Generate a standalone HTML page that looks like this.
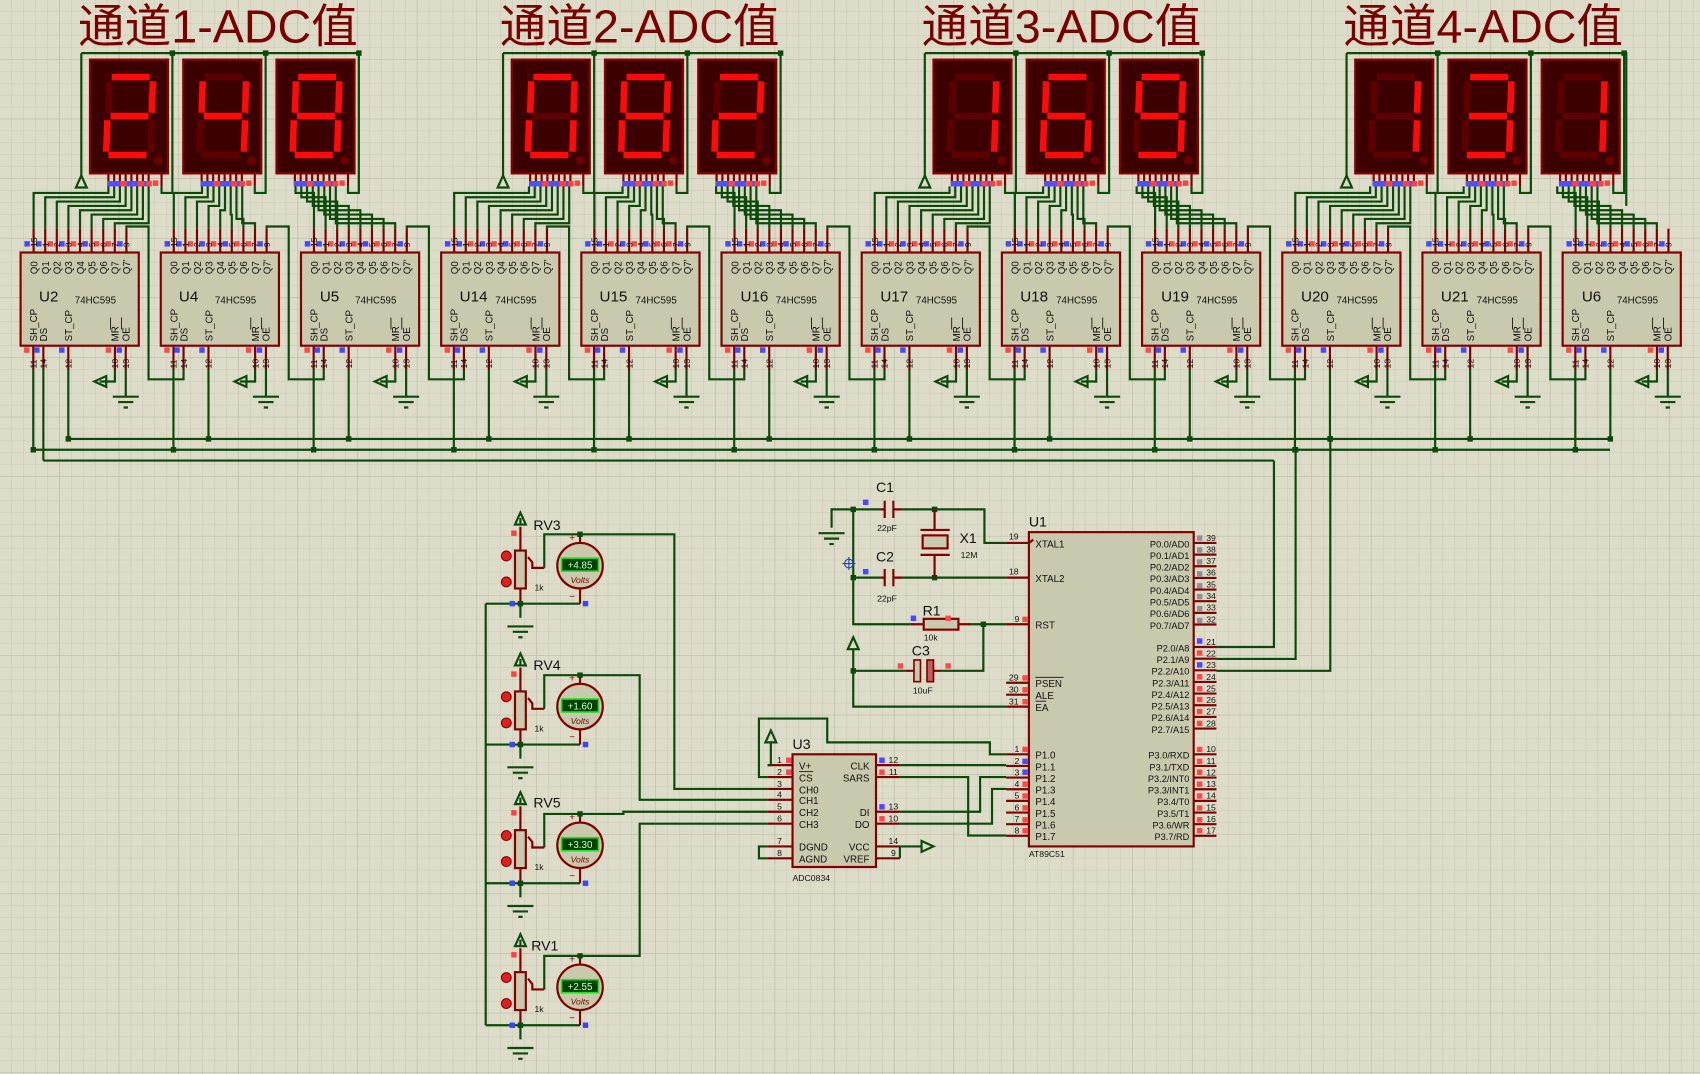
<!DOCTYPE html>
<html><head><meta charset="utf-8">
<style>
html,body{margin:0;padding:0;background:#dcdcc8;overflow:hidden}
svg{display:block}
text{font-family:"Liberation Sans","Noto Sans CJK SC",sans-serif}
</style></head>
<body>
<svg xmlns="http://www.w3.org/2000/svg" xmlns:xlink="http://www.w3.org/1999/xlink" width="1700" height="1074" viewBox="0 0 1568 991" preserveAspectRatio="none">
<defs>
<pattern id="gm" width="11" height="11" patternUnits="userSpaceOnUse"><path d="M11 0V11H0" fill="none" stroke="#c8c8b4" stroke-width="0.8"/></pattern>
<pattern id="gM" width="55" height="55" patternUnits="userSpaceOnUse"><path d="M55 0V55H0" fill="none" stroke="#b8b8a4" stroke-width="1"/></pattern>

<g id="sa"><line x1="20" y1="71" x2="55" y2="71"/></g>
<g id="sb"><line x1="58" y1="75" x2="57" y2="104"/></g>
<g id="sc"><line x1="57" y1="111" x2="56" y2="140"/></g>
<g id="sd"><line x1="17" y1="143" x2="52" y2="143"/></g>
<g id="se"><line x1="16" y1="111" x2="15" y2="140"/></g>
<g id="sf"><line x1="18" y1="75" x2="17" y2="104"/></g>
<g id="sg"><line x1="19" y1="107" x2="54" y2="107"/></g>

<g id="disp">
<rect x="0" y="55" width="72" height="105" fill="#3c0000" stroke="#8a0000" stroke-width="2"/>
<g stroke="#5e0000" stroke-width="6"><use href="#sa"/><use href="#sb"/><use href="#sc"/><use href="#sd"/><use href="#se"/><use href="#sf"/><use href="#sg"/></g>
<circle cx="63" cy="148" r="4" fill="#6a0000"/>
<path d="M17 160V172M22.3 160V172M27.6 160V172M32.9 160V172M38.2 160V172M43.5 160V172M48.8 160V172M54.1 160V172M66 160V172" stroke="#800000" stroke-width="2" fill="none"/>
<rect x="16" y="167" width="40" height="5" fill="#5050ff"/>
<rect x="28" y="167" width="6" height="5" fill="#ff4040"/><rect x="44" y="167" width="6" height="5" fill="#ff4040"/><rect x="52" y="167" width="5" height="5" fill="#ff4040"/>
<rect x="58" y="166.5" width="5" height="5" fill="#ff4040"/>
<path d="M66 172V178H76V49" stroke="#0b4a0b" stroke-width="2" fill="none"/>
<rect x="73.5" y="46.5" width="5" height="5" fill="#0b4a0b"/>
</g>
<g id="d0" stroke="#ff0a0a" stroke-width="6"><use href="#sa"/><use href="#sb"/><use href="#sc"/><use href="#sd"/><use href="#se"/><use href="#sf"/></g>
<g id="d1" stroke="#ff0a0a" stroke-width="6"><use href="#sb"/><use href="#sc"/></g>
<g id="d2" stroke="#ff0a0a" stroke-width="6"><use href="#sa"/><use href="#sb"/><use href="#sd"/><use href="#se"/><use href="#sg"/></g>
<g id="d3" stroke="#ff0a0a" stroke-width="6"><use href="#sa"/><use href="#sb"/><use href="#sc"/><use href="#sd"/><use href="#sg"/></g>
<g id="d4" stroke="#ff0a0a" stroke-width="6"><use href="#sb"/><use href="#sc"/><use href="#sf"/><use href="#sg"/></g>
<g id="d6" stroke="#ff0a0a" stroke-width="6"><use href="#sa"/><use href="#sc"/><use href="#sd"/><use href="#se"/><use href="#sf"/><use href="#sg"/></g>
<g id="d8" stroke="#ff0a0a" stroke-width="6"><use href="#sa"/><use href="#sb"/><use href="#sc"/><use href="#sd"/><use href="#se"/><use href="#sf"/><use href="#sg"/></g>
<g id="d9" stroke="#ff0a0a" stroke-width="6"><use href="#sa"/><use href="#sb"/><use href="#sc"/><use href="#sd"/><use href="#sf"/><use href="#sg"/></g>

<g id="chip">
<path d="M12 211V233M22.7 211V233M33.4 211V233M44.1 211V233M54.8 211V233M65.5 211V233M76.2 211V233M86.9 211V233M97.6 211V233M11.7 319V341M21 319V341M44 319V341M87 319V341M97 319V341" stroke="#800000" stroke-width="2" fill="none"/>
<rect x="0" y="233" width="109" height="86" fill="#c9c9ad" stroke="#800000" stroke-width="2"/>
<g fill="#4848ff"><rect x="3.5" y="222.5" width="5" height="5"/><rect x="14.2" y="222.5" width="5" height="5"/><rect x="35.6" y="222.5" width="5" height="5"/><rect x="57" y="222.5" width="5" height="5"/><rect x="89.1" y="222.5" width="5" height="5"/><rect x="12.5" y="320.5" width="5" height="5"/><rect x="88.5" y="320.5" width="5" height="5"/><rect x="35.5" y="320.5" width="5" height="5"/></g>
<g fill="#ff4848"><rect x="24.9" y="222.5" width="5" height="5"/><rect x="46.3" y="222.5" width="5" height="5"/><rect x="67.7" y="222.5" width="5" height="5"/><rect x="78.4" y="222.5" width="5" height="5"/><rect x="3.2" y="320.5" width="5" height="5"/><rect x="78.5" y="320.5" width="5" height="5"/></g>
<g font-size="8" fill="#111">
<text x="15" y="228" transform="rotate(-90 15 228)">15</text>
<text x="25.7" y="228" transform="rotate(-90 25.7 228)">1</text>
<text x="36.4" y="228" transform="rotate(-90 36.4 228)">2</text>
<text x="47.1" y="228" transform="rotate(-90 47.1 228)">3</text>
<text x="57.8" y="228" transform="rotate(-90 57.8 228)">4</text>
<text x="68.5" y="228" transform="rotate(-90 68.5 228)">5</text>
<text x="79.2" y="228" transform="rotate(-90 79.2 228)">6</text>
<text x="89.9" y="228" transform="rotate(-90 89.9 228)">7</text>
<text x="100.6" y="228" transform="rotate(-90 100.6 228)">9</text>
<text x="14.7" y="340" transform="rotate(-90 14.7 340)">11</text>
<text x="24" y="340" transform="rotate(-90 24 340)">14</text>
<text x="47" y="340" transform="rotate(-90 47 340)">12</text>
<text x="90" y="340" transform="rotate(-90 90 340)">10</text>
<text x="100" y="340" transform="rotate(-90 100 340)">13</text>
</g>
<g font-size="9" fill="#111">
<text x="15.5" y="253" transform="rotate(-90 15.5 253)">Q0</text>
<text x="26.2" y="253" transform="rotate(-90 26.2 253)">Q1</text>
<text x="36.9" y="253" transform="rotate(-90 36.9 253)">Q2</text>
<text x="47.6" y="253" transform="rotate(-90 47.6 253)">Q3</text>
<text x="58.3" y="253" transform="rotate(-90 58.3 253)">Q4</text>
<text x="69" y="253" transform="rotate(-90 69 253)">Q5</text>
<text x="79.7" y="253" transform="rotate(-90 79.7 253)">Q6</text>
<text x="90.4" y="253" transform="rotate(-90 90.4 253)">Q7</text>
<text x="101.1" y="253" transform="rotate(-90 101.1 253)">Q7'</text>
<text x="15.2" y="315" transform="rotate(-90 15.2 315)">SH_CP</text>
<text x="24.5" y="315" transform="rotate(-90 24.5 315)">DS</text>
<text x="47.5" y="315" transform="rotate(-90 47.5 315)">ST_CP</text>
<text x="90.5" y="315" transform="rotate(-90 90.5 315)">MR</text>
<text x="100.5" y="315" transform="rotate(-90 100.5 315)">OE</text>
<text x="50" y="280">74HC595</text>
</g>
<path d="M83 304V293M93 304V293" stroke="#111" stroke-width="0.8"/>
<g stroke="#0b4a0b" stroke-width="2" fill="none">
<path d="M11.7 341V415M44 341V405M87 341V352H79M97 341V366M85 366H109M90 371H104M95 376H99M73 352H79"/>
<polygon points="79,347 79,357 68,352"/>
</g>
<rect x="9.2" y="412.5" width="5" height="5" fill="#0b4a0b"/><rect x="41.5" y="402.5" width="5" height="5" fill="#0b4a0b"/>
</g>
<path id="casc" d="M97.6 211V209H118V350H150.3V341" stroke="#0b4a0b" stroke-width="2" fill="none"/>
<path id="f0" d="M81 172V178H12V211M86.3 172V182H22.7V211M91.6 172V186H33.4V211M96.9 172V190H44.1V211M102.2 172V194H54.8V211M107.5 172V198H65.5V211M112.8 172V202H76.2V211M118.1 172V206H86.9V211" stroke="#0b4a0b" stroke-width="2" fill="none"/>
<path id="f1" d="M38 172V178H12V211M43.3 172V182H22.7V211M48.6 172V186H33.4V211M53.9 172V190H44.1V211M59.2 172V194H54.8V211M64.5 172V198H65.5V211M69.8 172V202H76.2V211M75.1 172V206H86.9V211" stroke="#0b4a0b" stroke-width="2" fill="none"/>
<path id="f2" d="M-5 172V178H12V211M0.3 172V182H22.7V211M5.6 172V186H33.4V211M10.9 172V190H44.1V211M16.2 172V194H54.8V211M21.5 172V198H65.5V211M26.8 172V202H76.2V211M32.1 172V206H86.9V211" stroke="#0b4a0b" stroke-width="2" fill="none"/>
<g id="grp" stroke="#0b4a0b" stroke-width="2" fill="none">
<path d="M-8 49H248M-8 49V164"/>
<polygon points="-13,173 -3,173 -8,162"/>
</g>

<g id="pot">
<g stroke="#0b4a0b" stroke-width="2" fill="none">
<polygon points="475,484 485,484 480,473"/><path d="M480 478V484M448 557H535M480 557V570M468 578H492M473 583H487M478 588H482M502 524V493H535"/>
</g>
<path d="M480 486V508M480 543V557M535 493V501M535 543V557" stroke="#800000" stroke-width="2"/>
<polyline points="487,514 491,519 491,524 502,524" fill="none" stroke="#800000" stroke-width="2"/>
<rect x="475" y="508" width="10" height="35" fill="#c9c9ad" stroke="#800000" stroke-width="2"/>
<rect x="471.5" y="489.5" width="5" height="5" fill="#ff4040"/>
<rect x="477.5" y="554.5" width="5" height="5" fill="#0b4a0b"/><rect x="532.5" y="490.5" width="5" height="5" fill="#0b4a0b"/>
<rect x="470" y="554.5" width="5" height="5" fill="#4040ff"/><rect x="537.5" y="554.5" width="5" height="5" fill="#4040ff"/>
<circle cx="467" cy="513" r="4.5" fill="#e02020" stroke="#800000"/><circle cx="467" cy="537" r="4.5" fill="#e02020" stroke="#800000"/>
<circle cx="535" cy="522" r="21" fill="#c9c9ad" stroke="#800000" stroke-width="2"/>
<rect x="518" y="515" width="34" height="12" fill="#004000" stroke="#20e020" stroke-width="1.5"/>
<text x="535" y="538" font-size="8" font-style="italic" fill="#800000" text-anchor="middle">Volts</text>
<text x="493" y="545" font-size="8" fill="#111">1k</text>
<text x="525" y="499" font-size="9" fill="#800000">+</text><text x="525" y="553" font-size="9" fill="#800000">−</text>
</g>
</defs>

<rect width="1568" height="991" fill="#dcdcc8"/>
<rect width="1568" height="991" fill="url(#gm)"/>
<rect width="1568" height="991" fill="url(#gM)"/>

<g font-size="43" fill="#7a0000">
<text x="72" y="39">通道1-ADC值</text>
<text x="461" y="39">通道2-ADC值</text>
<text x="850" y="39">通道3-ADC值</text>
<text x="1239" y="39">通道4-ADC值</text>
</g>

<g stroke="#0b4a0b" stroke-width="2" fill="none">
<path d="M30 415H1485M62 405H1485M40 425H1175M40 341V425"/>
<path d="M1122 597H1175V425M1122 608H1195V415M1122 619H1227V405"/>
</g>
<rect x="1192.5" y="412.5" width="5" height="5" fill="#0b4a0b"/><rect x="1224.5" y="402.5" width="5" height="5" fill="#0b4a0b"/>

<use href="#grp" x="83"/><use href="#grp" x="472"/><use href="#grp" x="861"/><use href="#grp" x="1250"/>
<path d="M1498 49H1500V190" stroke="#0b4a0b" stroke-width="2" fill="none"/>

<use href="#disp" x="83"/><use href="#disp" x="169"/><use href="#disp" x="255"/>
<use href="#disp" x="472"/><use href="#disp" x="558"/><use href="#disp" x="644"/>
<use href="#disp" x="861"/><use href="#disp" x="947"/><use href="#disp" x="1033"/>
<use href="#disp" x="1250"/><use href="#disp" x="1336"/><use href="#disp" x="1422"/>

<use href="#d2" x="83"/><use href="#d4" x="169"/><use href="#d8" x="255"/>
<use href="#d0" x="472"/><use href="#d8" x="558"/><use href="#d2" x="644"/>
<use href="#d1" x="861"/><use href="#d6" x="947"/><use href="#d9" x="1033"/>
<use href="#d1" x="1250"/><use href="#d3" x="1336"/><use href="#d1" x="1422"/>

<use href="#f0" x="19"/><use href="#f1" x="148.3"/><use href="#f2" x="277.6"/>
<use href="#f0" x="406.9"/><use href="#f1" x="536.2"/><use href="#f2" x="665.5"/>
<use href="#f0" x="794.8"/><use href="#f1" x="924.1"/><use href="#f2" x="1053.4"/>
<use href="#f0" x="1182.7"/><use href="#f1" x="1312"/><use href="#f2" x="1441.3"/>

<use href="#chip" x="19"/><use href="#chip" x="148.3"/><use href="#chip" x="277.6"/>
<use href="#chip" x="406.9"/><use href="#chip" x="536.2"/><use href="#chip" x="665.5"/>
<use href="#chip" x="794.8"/><use href="#chip" x="924.1"/><use href="#chip" x="1053.4"/>
<use href="#chip" x="1182.7"/><use href="#chip" x="1312"/><use href="#chip" x="1441.3"/>

<use href="#casc" x="19"/><use href="#casc" x="148.3"/><use href="#casc" x="277.6"/>
<use href="#casc" x="406.9"/><use href="#casc" x="536.2"/><use href="#casc" x="665.5"/>
<use href="#casc" x="794.8"/><use href="#casc" x="924.1"/><use href="#casc" x="1053.4"/>
<use href="#casc" x="1182.7"/><use href="#casc" x="1312"/>

<g font-size="14" fill="#111">
<text x="36" y="278">U2</text><text x="165" y="278">U4</text><text x="295" y="278">U5</text>
<text x="424" y="278">U14</text><text x="553" y="278">U15</text><text x="683" y="278">U16</text>
<text x="812" y="278">U17</text><text x="941" y="278">U18</text><text x="1071" y="278">U19</text>
<text x="1200" y="278">U20</text><text x="1329" y="278">U21</text><text x="1459" y="278">U6</text>
</g>

<use href="#pot"/>
<use href="#pot" y="130"/>
<use href="#pot" y="258"/>
<use href="#pot" y="389"/>
<g font-size="9" fill="#d0ffd0" text-anchor="middle">
<text x="535" y="524.5">+4.85</text><text x="535" y="654.5">+1.60</text><text x="535" y="782.5">+3.30</text><text x="535" y="913.5">+2.55</text>
</g>
<g stroke="#0b4a0b" stroke-width="2" fill="none">
<path d="M448 557V946"/>
<path d="M535 493H622V728H708M535 623H590V738H708M535 751H575V749H708M535 882H590V760H708"/>
</g>

<path d="M928 501H949M928 533H949M928 576H949M928 630H949M928 641H949M928 652H949M928 696H949M928 706.75H949M928 717.5H949M928 728.25H949M928 739H949M928 749.75H949M928 760.5H949M928 771.25H949" stroke="#800000" stroke-width="2"/>
<path d="M1101 501H1122M1101 511.75H1122M1101 522.5H1122M1101 533.25H1122M1101 544H1122M1101 554.75H1122M1101 565.5H1122M1101 576.25H1122M1101 597H1122M1101 607.75H1122M1101 618.5H1122M1101 629.25H1122M1101 640H1122M1101 650.75H1122M1101 661.5H1122M1101 672.25H1122M1101 696H1122M1101 706.75H1122M1101 717.5H1122M1101 728.25H1122M1101 739H1122M1101 749.75H1122M1101 760.5H1122M1101 771.25H1122" stroke="#800000" stroke-width="2"/>
<rect x="949" y="491" width="152" height="290" fill="#c9c9ad" stroke="#800000" stroke-width="2"/>
<g font-size="9" fill="#111">
<text x="955" y="505">XTAL1</text><text x="955" y="537">XTAL2</text><text x="955" y="580">RST</text>
<text x="955" y="634">PSEN</text><text x="955" y="645">ALE</text><text x="955" y="656">EA</text>
<text x="955" y="700">P1.0</text><text x="955" y="710.75">P1.1</text><text x="955" y="721.5">P1.2</text><text x="955" y="732.25">P1.3</text><text x="955" y="743">P1.4</text><text x="955" y="753.75">P1.5</text><text x="955" y="764.5">P1.6</text><text x="955" y="775.25">P1.7</text>
</g>
<path d="M955 625H981M955 647H965" stroke="#111" stroke-width="0.8"/>
<g font-size="8.5" fill="#111" text-anchor="end">
<text x="1097" y="505">P0.0/AD0</text><text x="1097" y="515.75">P0.1/AD1</text><text x="1097" y="526.5">P0.2/AD2</text><text x="1097" y="537.25">P0.3/AD3</text><text x="1097" y="548">P0.4/AD4</text><text x="1097" y="558.75">P0.5/AD5</text><text x="1097" y="569.5">P0.6/AD6</text><text x="1097" y="580.25">P0.7/AD7</text>
<text x="1097" y="601">P2.0/A8</text><text x="1097" y="611.75">P2.1/A9</text><text x="1097" y="622.5">P2.2/A10</text><text x="1097" y="633.25">P2.3/A11</text><text x="1097" y="644">P2.4/A12</text><text x="1097" y="654.75">P2.5/A13</text><text x="1097" y="665.5">P2.6/A14</text><text x="1097" y="676.25">P2.7/A15</text>
<text x="1097" y="700">P3.0/RXD</text><text x="1097" y="710.75">P3.1/TXD</text><text x="1097" y="721.5">P3.2/INT0</text><text x="1097" y="732.25">P3.3/INT1</text><text x="1097" y="743">P3.4/T0</text><text x="1097" y="753.75">P3.5/T1</text><text x="1097" y="764.5">P3.6/WR</text><text x="1097" y="775.25">P3.7/RD</text>
</g>
<g font-size="8" fill="#111" text-anchor="middle">
<text x="935" y="498">19</text><text x="935" y="530">18</text><text x="938" y="574">9</text><text x="935" y="628">29</text><text x="935" y="639">30</text><text x="935" y="650">31</text>
<text x="938" y="694">1</text><text x="938" y="704.75">2</text><text x="938" y="715.5">3</text><text x="938" y="726.25">4</text><text x="938" y="737">5</text><text x="938" y="747.75">6</text><text x="938" y="758.5">7</text><text x="938" y="769.25">8</text>
<text x="1117" y="499">39</text><text x="1117" y="509.75">38</text><text x="1117" y="520.5">37</text><text x="1117" y="531.25">36</text><text x="1117" y="542">35</text><text x="1117" y="552.75">34</text><text x="1117" y="563.5">33</text><text x="1117" y="574.25">32</text>
<text x="1117" y="595">21</text><text x="1117" y="605.75">22</text><text x="1117" y="616.5">23</text><text x="1117" y="627.25">24</text><text x="1117" y="638">25</text><text x="1117" y="648.75">26</text><text x="1117" y="659.5">27</text><text x="1117" y="670.25">28</text>
<text x="1117" y="694">10</text><text x="1117" y="704.75">11</text><text x="1117" y="715.5">12</text><text x="1117" y="726.25">13</text><text x="1117" y="737">14</text><text x="1117" y="747.75">15</text><text x="1117" y="758.5">16</text><text x="1117" y="769.25">17</text>
</g>
<g fill="#ff4848">
<rect x="943" y="569" width="5" height="5"/><rect x="943" y="623" width="5" height="5"/><rect x="943" y="634" width="5" height="5"/><rect x="943" y="645" width="5" height="5"/>
<rect x="943" y="689" width="5" height="5"/><rect x="943" y="721" width="5" height="5"/><rect x="943" y="732" width="5" height="5"/><rect x="943" y="743" width="5" height="5"/><rect x="943" y="754" width="5" height="5"/><rect x="943" y="764" width="5" height="5"/>
<rect x="1104" y="600" width="5" height="5"/><rect x="1104" y="622" width="5" height="5"/><rect x="1104" y="633" width="5" height="5"/><rect x="1104" y="643" width="5" height="5"/><rect x="1104" y="654" width="5" height="5"/><rect x="1104" y="665" width="5" height="5"/>
<rect x="1104" y="689" width="5" height="5"/><rect x="1104" y="700" width="5" height="5"/><rect x="1104" y="710" width="5" height="5"/><rect x="1104" y="721" width="5" height="5"/><rect x="1104" y="732" width="5" height="5"/><rect x="1104" y="743" width="5" height="5"/><rect x="1104" y="754" width="5" height="5"/><rect x="1104" y="764" width="5" height="5"/>
</g>
<g fill="#4848ff"><rect x="943" y="700" width="5" height="5"/><rect x="943" y="710" width="5" height="5"/><rect x="1104" y="589" width="5" height="5"/><rect x="1104" y="611" width="5" height="5"/></g>
<g fill="#909090"><rect x="1104" y="494" width="5" height="5"/><rect x="1104" y="505" width="5" height="5"/><rect x="1104" y="516" width="5" height="5"/><rect x="1104" y="527" width="5" height="5"/><rect x="1104" y="538" width="5" height="5"/><rect x="1104" y="548" width="5" height="5"/><rect x="1104" y="559" width="5" height="5"/><rect x="1104" y="570" width="5" height="5"/></g>
<text x="949" y="486" font-size="13" fill="#111">U1</text>
<text x="949" y="791" font-size="8" fill="#111">AT89C51</text>

<path d="M708 706H731M708 717H731M708 728H731M708 738H731M708 749H731M708 760H731M708 781H731M708 792H731M808 706H830M808 717H830M808 749H830M808 760H830M808 781H830M808 792H830" stroke="#800000" stroke-width="2"/>
<rect x="731" y="696" width="77" height="104" fill="#c9c9ad" stroke="#800000" stroke-width="2"/>
<g font-size="9" fill="#111">
<text x="737" y="710">V+</text><text x="737" y="721">CS</text><text x="737" y="732">CH0</text><text x="737" y="742">CH1</text><text x="737" y="753">CH2</text><text x="737" y="764">CH3</text><text x="737" y="785">DGND</text><text x="737" y="796">AGND</text>
<text x="802" y="710" text-anchor="end">CLK</text><text x="802" y="721" text-anchor="end">SARS</text><text x="802" y="753" text-anchor="end">DI</text><text x="802" y="764" text-anchor="end">DO</text><text x="802" y="785" text-anchor="end">VCC</text><text x="802" y="796" text-anchor="end">VREF</text>
<text x="731" y="691" font-size="13">U3</text>
<text x="731" y="813" font-size="8">ADC0834</text>
</g>
<path d="M737 712H750" stroke="#111" stroke-width="0.8"/>
<g font-size="8" fill="#111" text-anchor="middle">
<text x="719" y="704">1</text><text x="719" y="715">2</text><text x="719" y="726">3</text><text x="719" y="736">4</text><text x="719" y="747">5</text><text x="719" y="758">6</text><text x="719" y="779">7</text><text x="719" y="790">8</text>
<text x="824" y="704">12</text><text x="824" y="715">11</text><text x="824" y="747">13</text><text x="824" y="758">10</text><text x="824" y="779">14</text><text x="824" y="790">9</text>
</g>
<rect x="725" y="699" width="5" height="5" fill="#ff4848"/><rect x="725" y="710" width="5" height="5" fill="#ff4848"/>
<rect x="811" y="699" width="5" height="5" fill="#4848ff"/><rect x="811" y="710" width="5" height="5" fill="#ff4848"/><rect x="811" y="742" width="5" height="5" fill="#4848ff"/><rect x="811" y="753" width="5" height="5" fill="#ff4848"/>
<g stroke="#0b4a0b" stroke-width="2" fill="none">
<path d="M708 706H711V684"/><polygon points="706,685 716,685 711,674"/>
<path d="M708 717H700V663H763V685H913V696H928"/>
<path d="M830 706H928"/>
<path d="M830 717H893V771H928"/>
<path d="M928 717H904V749H830"/>
<path d="M928 728H915V760H830"/>
<path d="M830 781H850M830 792V781M708 781H700V792H708"/>
<polygon points="850,776 850,786 861,781"/>
</g>

<g stroke="#0b4a0b" stroke-width="2" fill="none">
<path d="M767 487V470H812M755 492H779M760 497H774M765 502H769"/>
<path d="M832 470H908V501H928M787 533H812M832 533H928M787 470V576H840M896 576H928M907 576V619H868M835 619H787M787 599V652H928"/>
<polygon points="782,599 792,599 787,588"/>
</g>
<g fill="#0b4a0b"><rect x="784.5" y="467.5" width="5" height="5"/><rect x="859.5" y="467.5" width="5" height="5"/><rect x="859.5" y="530.5" width="5" height="5"/><rect x="784.5" y="530.5" width="5" height="5"/><rect x="904.5" y="573.5" width="5" height="5"/><rect x="784.5" y="616.5" width="5" height="5"/></g>
<path d="M812 470H816M816 462V478M824 462V478M824 470H832M812 533H816M816 525V541M824 525V541M824 533H832M862 470V489M862 512V533M849 489H876M849 512H876M840 576H852M884 576H896M835 619H843M861 619H868M949 501L953 498" stroke="#800000" stroke-width="2" fill="none"/>
<rect x="851" y="494" width="23" height="12" fill="#c9c9ad" stroke="#800000" stroke-width="2"/>
<rect x="852" y="571" width="32" height="10" fill="#c9c9ad" stroke="#800000" stroke-width="2"/>
<rect x="843" y="609" width="6" height="20" fill="#c9c9ad" stroke="#800000" stroke-width="1.5"/><rect x="855" y="609" width="6" height="20" fill="#c06060" stroke="#800000" stroke-width="1.5"/>
<rect x="796" y="461" width="5" height="5" fill="#4848ff"/><rect x="796" y="525" width="5" height="5" fill="#4848ff"/><rect x="840" y="568" width="5" height="5" fill="#4848ff"/><rect x="872" y="568" width="5" height="5" fill="#ff4848"/><rect x="828" y="612" width="5" height="5" fill="#ff4848"/><rect x="872" y="612" width="5" height="5" fill="#ff4848"/>
<circle cx="783" cy="520" r="4" fill="none" stroke="#2040c0" stroke-width="1"/><path d="M777 520H789M783 514V526" stroke="#2040c0" stroke-width="1"/>
<g font-size="13" fill="#111">
<text x="808" y="454">C1</text><text x="808" y="518">C2</text><text x="885" y="501">X1</text><text x="851" y="568">R1</text><text x="841" y="605">C3</text>
<text x="492" y="489">RV3</text><text x="492" y="618">RV4</text><text x="492" y="745">RV5</text><text x="490" y="877">RV1</text>
</g>
<g font-size="8" fill="#111">
<text x="809" y="490">22pF</text><text x="809" y="555">22pF</text><text x="886" y="515">12M</text><text x="852" y="591">10k</text><text x="842" y="640">10uF</text>
</g>
</svg>
</body></html>
